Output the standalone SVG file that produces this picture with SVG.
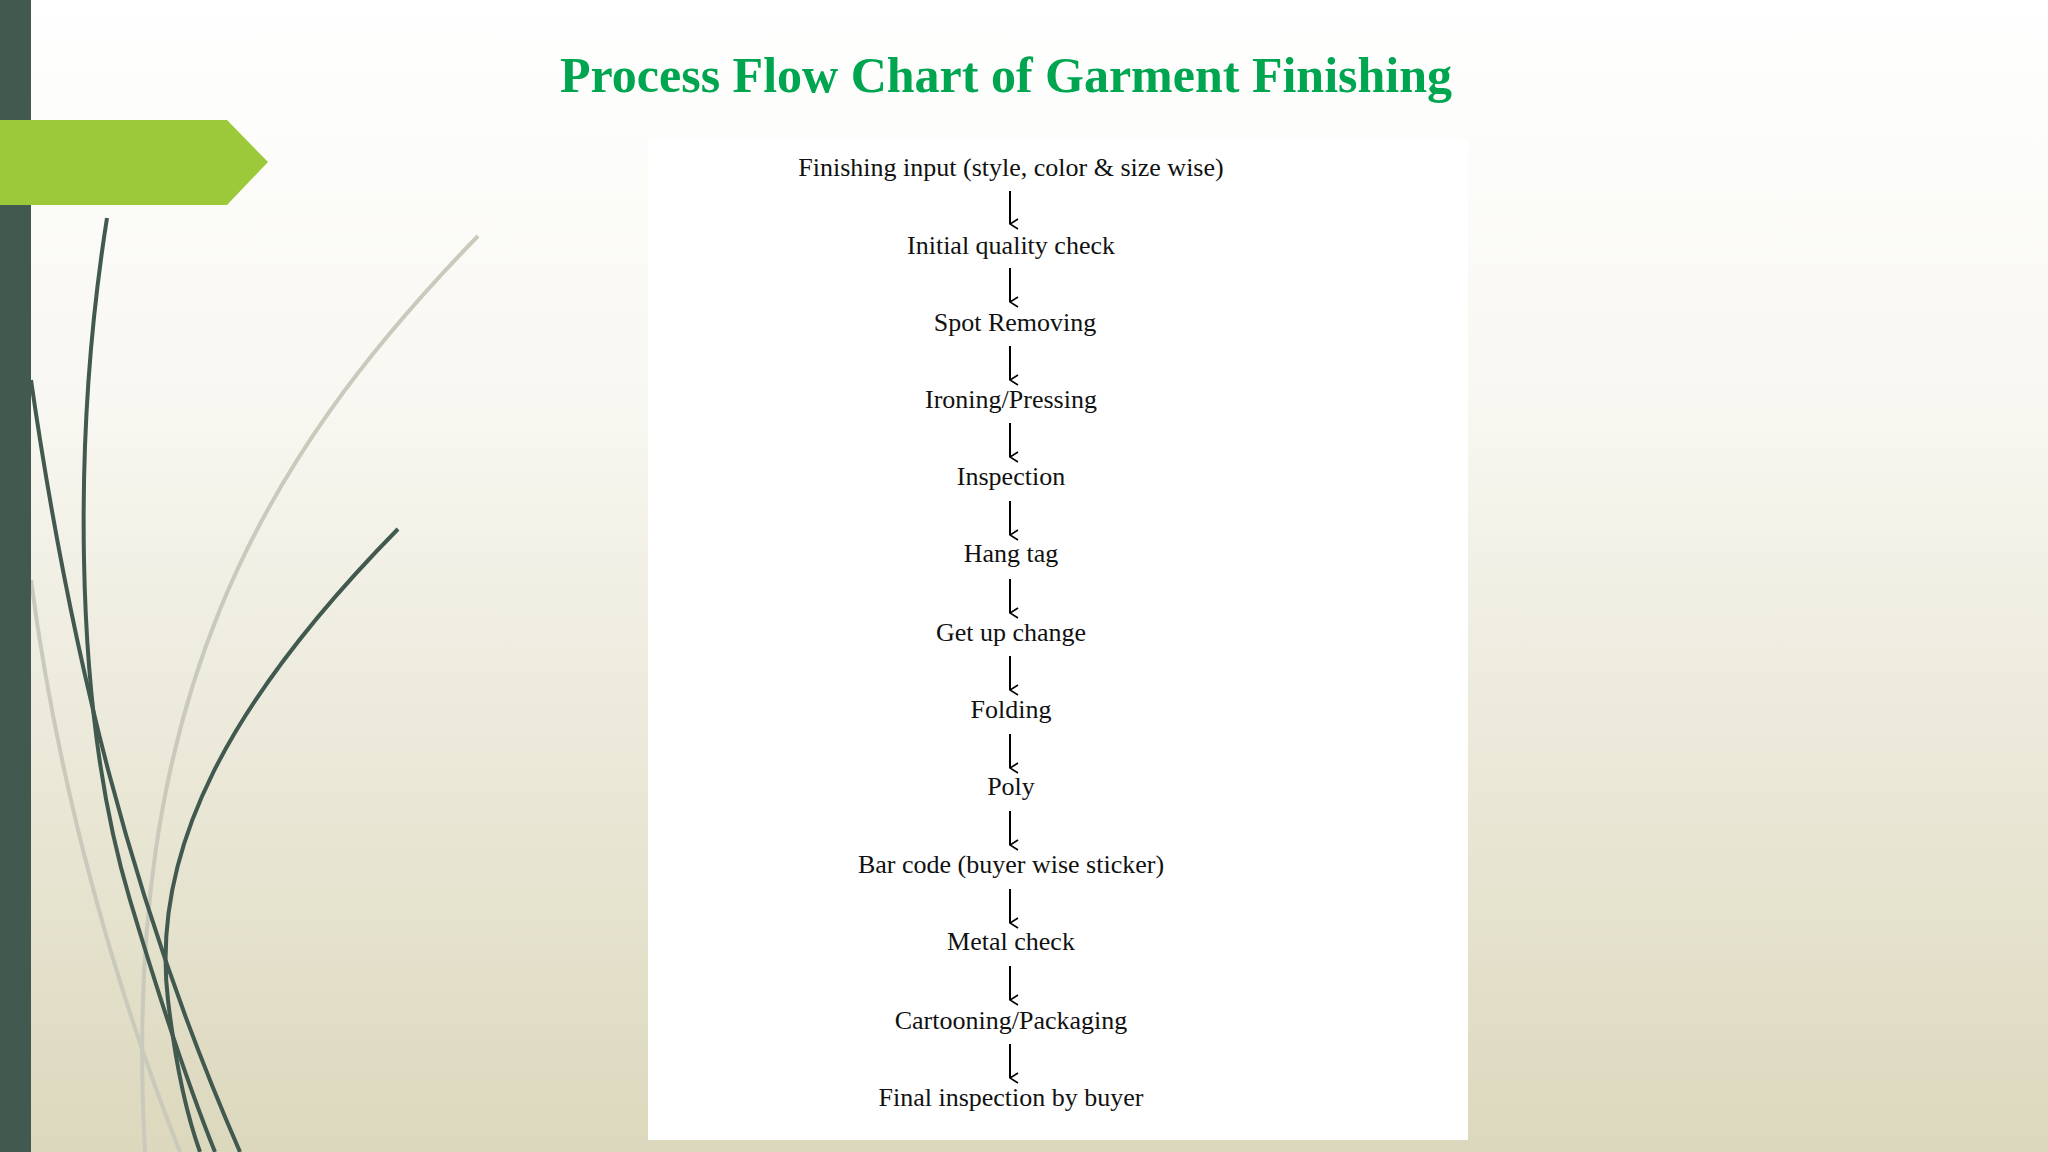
<svg xmlns="http://www.w3.org/2000/svg" width="2048" height="1152" viewBox="0 0 2048 1152">
<defs>
<linearGradient id="bg" x1="0" y1="0" x2="0" y2="1">
<stop offset="0" stop-color="#ffffff"/><stop offset="0.35" stop-color="#f8f7f1"/><stop offset="1" stop-color="#dcd8bd"/>
</linearGradient>
<marker id="ah" markerWidth="12" markerHeight="12" refX="6" refY="11" orient="auto" markerUnits="userSpaceOnUse">
<path d="M1,3 L6,11 L11,3" fill="none" stroke="#000" stroke-width="1.6"/>
</marker>
<style>
.t{font-family:"Liberation Serif",serif;font-size:26px;fill:#111;text-anchor:middle}
.a{stroke:#000;stroke-width:2;marker-end:url(#ah)}
.dk{fill:none;stroke:#41594f;stroke-width:4}
.lt{fill:none;stroke:#c9c9bc;stroke-width:4}
</style>
</defs>
<rect width="2048" height="1152" fill="url(#bg)"/>
<g id="decor">
<path class="lt" d="M478,236 C260,460 120,700 145,1152"/>
<path class="lt" d="M31,580 C60,800 120,1000 180,1152"/>
<path class="dk" d="M107,218 C75,420 70,700 130,900 C160,1000 190,1090 215,1152"/>
<path class="dk" d="M31,380 C70,650 130,900 240,1152"/>
<path class="dk" d="M398,529 C230,700 150,850 168,1000 C175,1060 185,1110 200,1152"/>
<rect x="0" y="0" width="31" height="1152" fill="#41594f"/>
<polygon points="0,120 227,120 268,162 227,205 0,205" fill="#9bc93a"/>
</g>
<text x="1006" y="92" font-family="Liberation Serif,serif" font-size="50" font-weight="bold" fill="#00a550" text-anchor="middle">Process Flow Chart of Garment Finishing</text>
<rect x="648" y="140" width="820" height="1000" fill="#ffffff"/>
<g id="nodes">
<g id="n1"><text class="t" x="1011" y="176">Finishing input (style, color &amp; size wise)</text></g>
<g id="n2"><text class="t" x="1011" y="254">Initial quality check</text></g>
<g id="n3"><text class="t" x="1015" y="331">Spot Removing</text></g>
<g id="n4"><text class="t" x="1011" y="408">Ironing/Pressing</text></g>
<g id="n5"><text class="t" x="1011" y="485">Inspection</text></g>
<g id="n6"><text class="t" x="1011" y="562">Hang tag</text></g>
<g id="n7"><text class="t" x="1011" y="641">Get up change</text></g>
<g id="n8"><text class="t" x="1011" y="718">Folding</text></g>
<g id="n9"><text class="t" x="1011" y="795">Poly</text></g>
<g id="n10"><text class="t" x="1011" y="873">Bar code (buyer wise sticker)</text></g>
<g id="n11"><text class="t" x="1011" y="950">Metal check</text></g>
<g id="n12"><text class="t" x="1011" y="1029">Cartooning/Packaging</text></g>
<g id="n13"><text class="t" x="1011" y="1106">Final inspection by buyer</text></g>
</g>
<g id="connectors">
<line class="a" x1="1010" y1="191" x2="1010" y2="224"/>
<line class="a" x1="1010" y1="268" x2="1010" y2="302"/>
<line class="a" x1="1010" y1="346" x2="1010" y2="380"/>
<line class="a" x1="1010" y1="423" x2="1010" y2="457"/>
<line class="a" x1="1010" y1="501" x2="1010" y2="535"/>
<line class="a" x1="1010" y1="579" x2="1010" y2="613"/>
<line class="a" x1="1010" y1="656" x2="1010" y2="690"/>
<line class="a" x1="1010" y1="734" x2="1010" y2="768"/>
<line class="a" x1="1010" y1="811" x2="1010" y2="845"/>
<line class="a" x1="1010" y1="889" x2="1010" y2="923"/>
<line class="a" x1="1010" y1="966" x2="1010" y2="1000"/>
<line class="a" x1="1010" y1="1044" x2="1010" y2="1078"/>
</g>
</svg>
